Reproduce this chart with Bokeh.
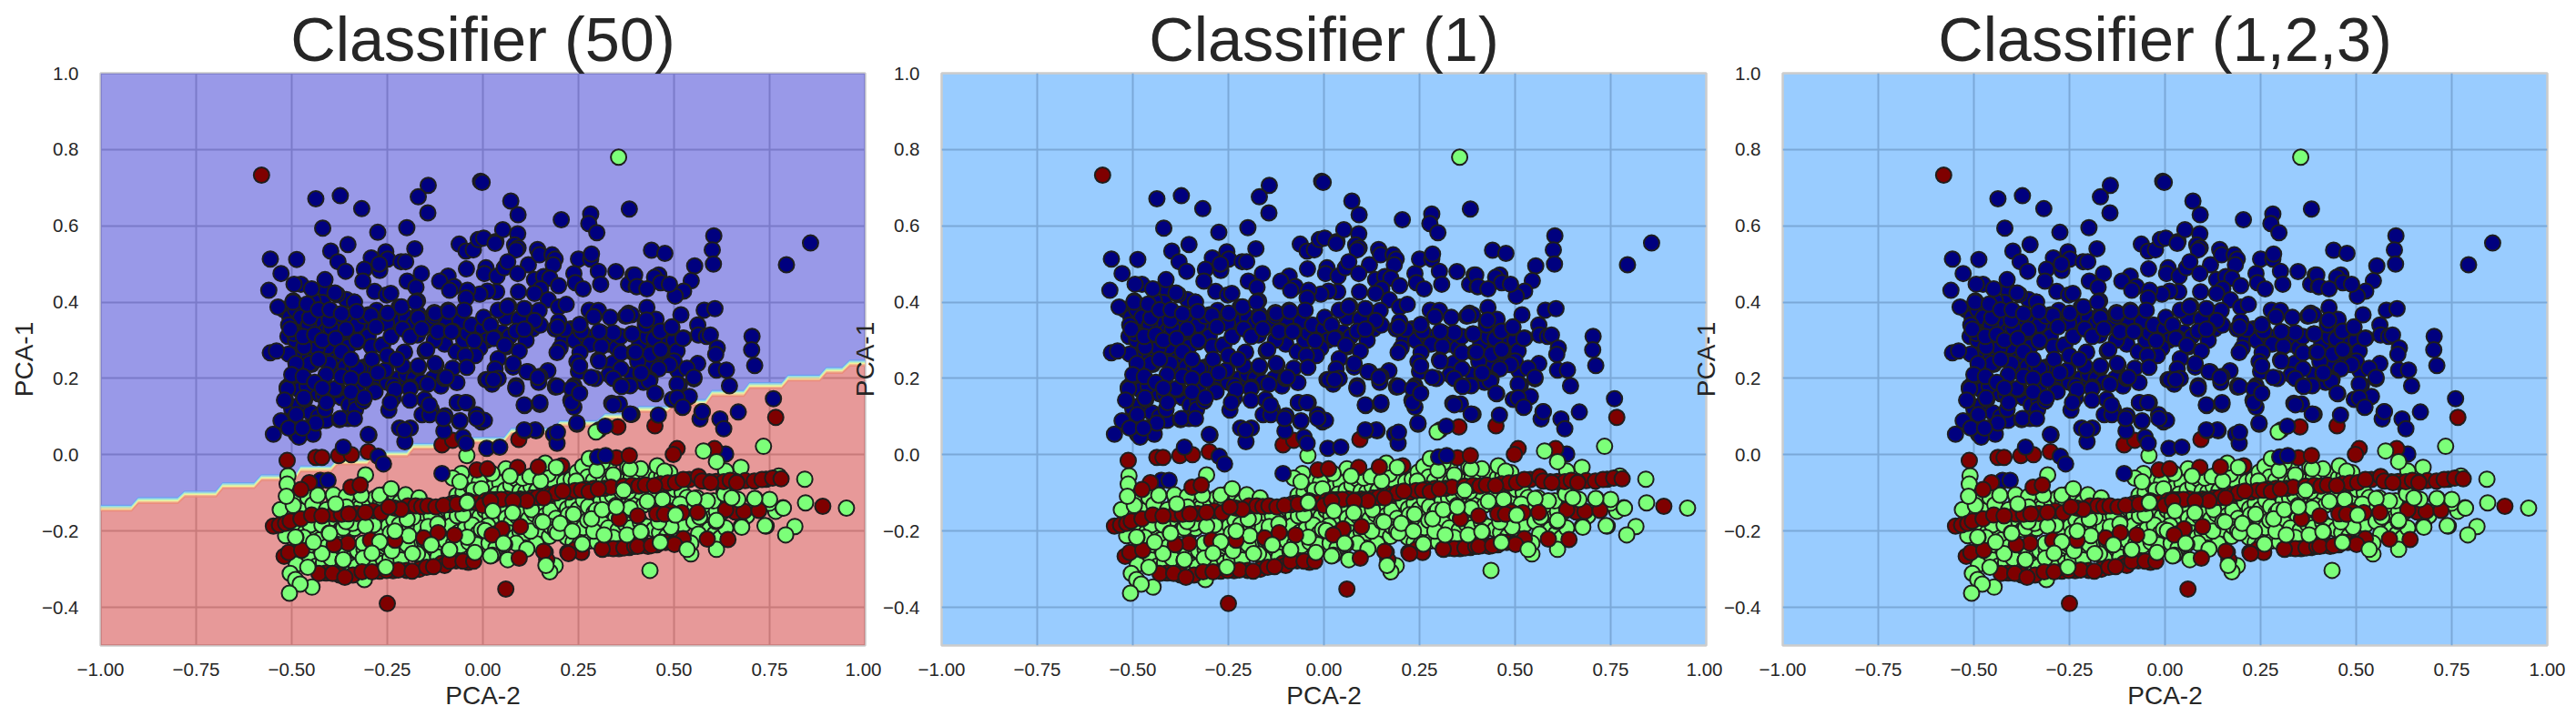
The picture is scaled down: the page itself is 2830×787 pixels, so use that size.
from bokeh.embed import file_html
from bokeh.layouts import row
from bokeh.models import ColumnDataSource, FixedTicker
from bokeh.plotting import figure
from bokeh.resources import INLINE

titles = ["Classifier (50)", "Classifier (1)", "Classifier (1,2,3)"]
x_ticks = [-1.0, -0.75, -0.5, -0.25, 0.0, 0.25, 0.5, 0.75, 1.0]
x_tick_labels = ["\u22121.00", "\u22120.75", "\u22120.50", "\u22120.25", "0.00", "0.25", "0.50", "0.75", "1.00"]
y_ticks = [-0.4, -0.2, 0.0, 0.2, 0.4, 0.6, 0.8, 1.0]
y_tick_labels = ["\u22120.4", "\u22120.2", "0.0", "0.2", "0.4", "0.6", "0.8", "1.0"]

boundary_x = [-1.0, -0.919, -0.901, -0.798, -0.78, -0.698, -0.68, -0.598, -0.579, -0.49, -0.476, -0.397, -0.381,
              -0.302, -0.286, -0.198, -0.181, -0.09, -0.07, 0.056, 0.075, 0.187, 0.202, 0.3, 0.32, 0.39, 0.409,
              0.484, 0.5, 0.583, 0.6, 0.683, 0.698, 0.782, 0.799, 0.881, 0.899, 0.94, 0.96, 1.0]
boundary_y = [-0.14, -0.14, -0.12, -0.12, -0.103, -0.103, -0.081, -0.081, -0.06, -0.06, -0.037, -0.037, -0.019,
              -0.019, 0.002, 0.002, 0.022, 0.022, 0.038, 0.038, 0.062, 0.062, 0.082, 0.082, 0.1, 0.1, 0.119,
              0.119, 0.137, 0.137, 0.161, 0.161, 0.181, 0.181, 0.201, 0.201, 0.221, 0.221, 0.24, 0.24]

blue_low = [(0.242, -0.065), (-0.425, -0.067), (-0.405, -0.067), (0.635, 0.002)]

blue_points = [
    (-0.52, 0.38), (-0.505, 0.36), (-0.51, 0.31), (-0.49, 0.38), (-0.475, 0.33), (-0.46, 0.335), (-0.445, 0.325),
    (-0.43, 0.34), (-0.41, 0.36), (-0.395, 0.37), (-0.375, 0.35), (-0.35, 0.35), (-0.34, 0.31), (-0.325, 0.32),
    (-0.31, 0.33), (-0.3, 0.31), (-0.27, 0.36), (-0.23, 0.35), (-0.2, 0.36), (-0.18, 0.345), (-0.14, 0.34),
    (-0.1, 0.35), (-0.49, 0.3), (-0.48, 0.265), (-0.455, 0.26), (-0.44, 0.27), (-0.42, 0.27), (-0.395, 0.26),
    (-0.38, 0.24), (-0.36, 0.23), (-0.34, 0.225), (-0.31, 0.23), (-0.29, 0.215), (-0.27, 0.195), (-0.25, 0.19),
    (-0.22, 0.2), (-0.2, 0.21), (-0.18, 0.2), (-0.16, 0.19), (-0.13, 0.2), (-0.11, 0.18), (-0.5, 0.19),
    (-0.48, 0.17), (-0.45, 0.165), (-0.43, 0.16), (-0.4, 0.15), (-0.37, 0.15), (-0.35, 0.13), (-0.33, 0.14),
    (-0.5, 0.12), (-0.48, 0.13), (-0.45, 0.11), (-0.43, 0.1), (-0.41, 0.09), (-0.5, 0.09), (-0.46, 0.07),
    (-0.1, 0.29), (-0.07, 0.27), (-0.05, 0.3), (-0.04, 0.32), (-0.06, 0.35), (-0.03, 0.34), (0.0, 0.33),
    (0.01, 0.3), (0.05, 0.32), (0.07, 0.31), (0.06, 0.36), (0.13, 0.33), (0.15, 0.34),
    (0.21, 0.3), (0.23, 0.33), (0.24, 0.3), (0.27, 0.31), (0.28, 0.29), (0.33, 0.29), (0.35, 0.28),
    (0.36, 0.31), (0.41, 0.29), (0.43, 0.31), (0.45, 0.29), (0.48, 0.3), (0.5, 0.3), (0.51, 0.22), (0.47, 0.24),
    (0.44, 0.24), (0.42, 0.19), (0.39, 0.21), (0.34, 0.24), (0.33, 0.21), (0.17, 0.22),
    (-0.437, 0.671), (-0.373, 0.679), (-0.317, 0.645), (-0.143, 0.706), (-0.169, 0.676), (-0.144, 0.634),
    (-0.006, 0.717), (-0.002, 0.714), (0.073, 0.665), (0.092, 0.629), (0.205, 0.616), (0.282, 0.631),
    (0.277, 0.606), (0.298, 0.582), (0.383, 0.644), (-0.419, 0.594), (-0.275, 0.583), (-0.199, 0.595),
    (-0.353, 0.551), (-0.398, 0.534), (-0.379, 0.506), (-0.359, 0.481), (-0.556, 0.513), (-0.487, 0.512),
    (-0.528, 0.475), (-0.56, 0.431), (-0.536, 0.387), (-0.292, 0.516), (-0.254, 0.532), (-0.249, 0.513),
    (-0.31, 0.486), (-0.27, 0.483), (-0.271, 0.5), (-0.314, 0.455), (-0.214, 0.506), (-0.202, 0.506),
    (-0.178, 0.54), (-0.161, 0.475), (-0.198, 0.455), (-0.175, 0.439), (-0.283, 0.428), (-0.252, 0.419),
    (-0.241, 0.423), (-0.171, 0.403), (-0.062, 0.552), (-0.044, 0.534), (-0.025, 0.537), (-0.012, 0.564),
    (0.002, 0.568), (0.034, 0.559), (0.032, 0.554), (0.052, 0.59), (0.091, 0.579), (0.083, 0.55),
    (0.092, 0.542), (0.087, 0.537), (-0.043, 0.487), (0.008, 0.49), (0.004, 0.475), (0.037, 0.468),
    (0.056, 0.49), (0.065, 0.506), (0.119, 0.498), (0.091, 0.475), (0.143, 0.538), (0.148, 0.524),
    (0.181, 0.524), (0.189, 0.513), (0.184, 0.498), (0.25, 0.513), (0.282, 0.513), (0.284, 0.526),
    (0.238, 0.475), (0.242, 0.451), (0.262, 0.435), (0.302, 0.481), (0.308, 0.447), (0.348, 0.48),
    (0.393, 0.471), (0.381, 0.447), (0.401, 0.441), (-0.091, 0.468), (-0.113, 0.455), (-0.075, 0.441),
    (-0.087, 0.431), (0.135, 0.459), (0.159, 0.467), (0.175, 0.463), (0.198, 0.443), (0.151, 0.435),
    (0.135, 0.423), (0.093, 0.427), (0.036, 0.427), (0.012, 0.429), (-0.008, 0.421), (-0.04, 0.431),
    (-0.044, 0.411), (0.171, 0.406), (0.198, 0.387), (0.218, 0.394), (0.278, 0.379), (0.302, 0.378),
    (0.29, 0.362), (0.333, 0.36), (0.373, 0.363), (0.381, 0.371), (0.389, 0.317), (0.31, 0.32),
    (0.341, 0.32), (0.254, 0.341), (0.258, 0.324), (0.214, 0.329), (0.189, 0.33), (0.198, 0.349),
    (0.067, 0.39), (0.04, 0.379), (0.109, 0.383), (0.147, 0.378), (0.135, 0.352), (0.002, 0.36),
    (0.02, 0.34), (0.095, 0.356), (0.087, 0.324), (0.111, 0.328), (0.113, 0.3), (0.032, 0.306),
    (0.061, 0.283), (0.095, 0.272), (0.04, 0.252), (-0.02, 0.3), (-0.008, 0.28), (-0.02, 0.26),
    (-0.046, 0.26), (-0.091, 0.379), (-0.049, 0.379), (-0.127, 0.373), (-0.127, 0.364), (-0.169, 0.368),
    (-0.219, 0.387), (-0.25, 0.37), (-0.278, 0.378), (-0.3, 0.367), (-0.337, 0.4), (-0.357, 0.407),
    (-0.381, 0.42), (-0.413, 0.435), (-0.419, 0.399), (-0.444, 0.403), (-0.413, 0.459), (-0.476, 0.447),
    (-0.494, 0.447), (-0.448, 0.435), (-0.496, 0.403), (-0.476, 0.36), (-0.439, 0.352), (-0.381, 0.348),
    (-0.329, 0.34), (-0.357, 0.324), (-0.494, 0.318), (-0.508, 0.34), (-0.456, 0.34), (-0.397, 0.332),
    (-0.311, 0.363), (-0.252, 0.344), (-0.171, 0.314), (-0.113, 0.324), (-0.079, 0.324), (-0.127, 0.3),
    (-0.151, 0.272), (-0.206, 0.268), (-0.262, 0.288), (-0.292, 0.284), (-0.329, 0.296), (-0.353, 0.283),
    (-0.464, 0.284), (-0.405, 0.284), (-0.433, 0.28), (-0.508, 0.264), (-0.556, 0.267), (-0.54, 0.272),
    (-0.488, 0.237), (-0.448, 0.237), (-0.399, 0.226), (-0.321, 0.227), (-0.254, 0.221), (-0.21, 0.233),
    (-0.168, 0.229), (-0.123, 0.235), (-0.079, 0.227), (-0.042, 0.229), (0.032, 0.225), (0.079, 0.23),
    (0.119, 0.217), (0.149, 0.205), (0.25, 0.218), (0.294, 0.2), (0.361, 0.225), (0.393, 0.268),
    (0.361, 0.267), (0.31, 0.284), (0.254, 0.268), (0.302, 0.248), (0.246, 0.244), (0.202, 0.28),
    (0.194, 0.268), (-0.512, 0.177), (-0.46, 0.189), (-0.381, 0.173), (-0.31, 0.197), (-0.286, 0.169),
    (-0.234, 0.181), (-0.19, 0.177), (-0.144, 0.185), (-0.1, 0.2), (-0.068, 0.189), (0.008, 0.197),
    (0.04, 0.2), (0.087, 0.181), (0.146, 0.19), (0.19, 0.181), (0.238, 0.181), (0.341, 0.2), (0.361, 0.181),
    (0.604, 0.574), (0.6, 0.537), (0.603, 0.5), (0.857, 0.555), (0.794, 0.498), (0.441, 0.536), (0.476, 0.528),
    (0.554, 0.495), (0.545, 0.456), (0.525, 0.429), (0.503, 0.416), (0.46, 0.471), (0.449, 0.465),
    (0.465, 0.451), (0.488, 0.447), (0.397, 0.471), (0.403, 0.441), (0.429, 0.435), (0.429, 0.386),
    (0.518, 0.367), (0.579, 0.379), (0.607, 0.383), (0.453, 0.355), (0.425, 0.349), (0.425, 0.34),
    (0.389, 0.367), (0.494, 0.333), (0.562, 0.34), (0.564, 0.314), (0.585, 0.31), (0.595, 0.314),
    (0.525, 0.306), (0.448, 0.304), (0.464, 0.324), (0.391, 0.317), (0.613, 0.28), (0.609, 0.263),
    (0.704, 0.31), (0.703, 0.275), (0.711, 0.234), (0.468, 0.271), (0.508, 0.272), (0.397, 0.267),
    (0.438, 0.264), (0.5, 0.246), (0.488, 0.236), (0.46, 0.225), (0.413, 0.213), (0.405, 0.244),
    (0.437, 0.197), (0.562, 0.239), (0.534, 0.227), (0.552, 0.199), (0.514, 0.183), (0.611, 0.222),
    (0.637, 0.222), (0.645, 0.181), (0.385, 0.181), (0.452, 0.16), (0.495, 0.145), (0.54, 0.153),
    (0.522, 0.124), (0.435, 0.193), (0.39, 0.106), (0.459, 0.104), (0.573, 0.113), (0.568, 0.094),
    (0.62, 0.094), (0.63, 0.068), (0.668, 0.112), (0.76, 0.147),
    (-0.512, 0.173), (-0.46, 0.181), (-0.516, 0.143), (-0.466, 0.145), (-0.383, 0.171), (-0.417, 0.157),
    (-0.488, 0.105), (-0.413, 0.119), (-0.444, 0.054), (-0.488, 0.054), (-0.548, 0.054), (-0.528, 0.089),
    (-0.353, 0.095), (-0.375, 0.092), (-0.437, 0.083), (-0.481, 0.046), (-0.508, 0.07), (-0.472, 0.07),
    (-0.333, 0.119), (-0.313, 0.141), (-0.282, 0.165), (-0.329, 0.181), (-0.246, 0.117), (-0.234, 0.149),
    (-0.19, 0.175), (-0.23, 0.171), (-0.218, 0.07), (-0.19, 0.07), (-0.204, 0.034), (-0.298, 0.052),
    (-0.365, 0.02), (-0.274, -0.004), (-0.26, -0.024), (-0.153, 0.145), (-0.135, 0.119), (-0.159, 0.105),
    (-0.139, 0.105), (-0.099, 0.102), (-0.067, 0.136), (-0.041, 0.136), (-0.061, 0.087), (-0.017, 0.105),
    (-0.004, 0.086), (0.004, 0.09), (-0.102, 0.062), (-0.052, 0.046), (-0.044, 0.03), (0.01, 0.017),
    (0.044, 0.02), (-0.107, -0.049), (0.111, 0.063), (0.139, 0.063), (0.185, 0.054), (0.194, 0.03),
    (0.109, 0.129), (0.149, 0.132), (0.238, 0.125), (0.23, 0.143), (0.19, 0.177), (0.238, 0.177),
    (0.337, 0.135), (0.357, 0.133), (0.387, 0.106), (0.246, 0.08), (0.32, 0.075), (0.087, 0.173),
    (0.024, 0.185), (0.3, -0.006), (0.321, -0.002),
    (-0.497, 0.4), (-0.453, 0.359), (-0.504, 0.329), (-0.468, 0.283), (-0.402, 0.353), (-0.387, 0.424),
    (-0.336, 0.4), (-0.293, 0.365), (-0.249, 0.371), (-0.213, 0.388), (-0.176, 0.4), (-0.169, 0.359),
    (-0.125, 0.371), (-0.089, 0.376), (-0.358, 0.329), (-0.329, 0.299), (-0.264, 0.287), (-0.205, 0.269),
    (-0.147, 0.275), (-0.118, 0.323), (-0.082, 0.323), (-0.023, 0.299), (0.028, 0.305), (0.064, 0.388),
    (0.108, 0.383), (0.057, 0.287), (0.108, 0.329), (0.195, 0.335), (0.253, 0.341), (0.304, 0.323),
    (0.377, 0.365), (0.428, 0.353), (0.494, 0.335), (0.523, 0.305), (0.465, 0.275), (0.399, 0.269),
    (0.304, 0.245), (0.253, 0.233), (0.283, 0.203), (0.363, 0.179), (0.414, 0.215), (0.508, 0.185),
    (0.552, 0.203), (-0.453, 0.239), (-0.489, 0.239), (-0.511, 0.173), (-0.519, 0.143), (-0.468, 0.149),
    (-0.402, 0.239), (-0.387, 0.173), (-0.329, 0.227), (-0.307, 0.197), (-0.256, 0.221), (-0.191, 0.173),
    (-0.169, 0.233), (-0.125, 0.239), (-0.096, 0.203), (-0.067, 0.137), (-0.045, 0.137), (0.013, 0.197),
    (0.028, 0.197), (0.079, 0.239), (0.086, 0.175), (0.115, 0.218), (0.144, 0.203), (0.195, 0.179),
    (0.232, 0.173), (0.232, 0.137), (0.253, 0.161), (0.341, 0.131), (0.385, 0.107), (0.45, 0.161),
    (0.508, 0.149), (0.523, 0.125), (0.574, 0.113), (-0.409, 0.137), (-0.373, 0.095), (-0.336, 0.095),
    (-0.242, 0.137), (-0.191, 0.143), (-0.14, 0.131), (-0.3, 0.053), (-0.205, 0.065), (-0.103, 0.095),
    (-0.06, 0.089), (-0.016, 0.095), (0.149, 0.137), (0.108, 0.131), (0.195, 0.059), (0.246, 0.083),
    (0.137, 0.065), (0.108, 0.065),
    (-0.47, 0.31), (-0.44, 0.315), (-0.42, 0.3), (-0.385, 0.305), (-0.37, 0.27), (-0.345, 0.25),
    (-0.43, 0.25), (-0.41, 0.21), (-0.37, 0.205), (-0.345, 0.2), (-0.29, 0.25), (-0.275, 0.215),
    (-0.5, 0.21), (-0.47, 0.205), (-0.44, 0.19), (-0.42, 0.175), (-0.345, 0.165), (-0.31, 0.15),
    (-0.46, 0.395), (-0.43, 0.38), (-0.4, 0.38), (-0.37, 0.37), (-0.33, 0.375), (-0.28, 0.335),
    (-0.24, 0.31), (-0.21, 0.33), (-0.19, 0.31), (-0.16, 0.33), (-0.25, 0.26), (-0.225, 0.25),
]

red_points = [
    (-0.39, -0.156), (-0.37, -0.156), (-0.33, -0.154), (-0.287, -0.147), (-0.23, -0.14), (-0.196, -0.134),
    (-0.176, -0.134), (-0.16, -0.136), (-0.087, -0.131), (-0.05, -0.128), (-0.03, -0.125), (-0.015, -0.126),
    (0.008, -0.12), (0.034, -0.118), (0.064, -0.116), (0.098, -0.116), (0.128, -0.113), (0.143, -0.112),
    (0.176, -0.105), (0.192, -0.1), (0.225, -0.098), (0.241, -0.094), (0.27, -0.09), (0.29, -0.088),
    (0.318, -0.088), (0.335, -0.085), (0.368, -0.082), (0.39, -0.08), (0.408, -0.082), (0.465, -0.076),
    (0.484, -0.074), (0.54, -0.065), (0.61, -0.07), (0.63, -0.071), (0.686, -0.068), (0.741, -0.064),
    (-0.41, -0.31), (-0.375, -0.315), (-0.34, -0.315), (-0.27, -0.305), (-0.235, -0.304), (-0.2, -0.303),
    (-0.166, -0.3), (-0.108, -0.285), (-0.07, -0.278), (-0.038, -0.282), (-0.1, -0.29), (0.328, -0.245),
    (0.356, -0.246), (0.383, -0.243), (0.415, -0.238), (0.432, -0.24), (0.455, -0.236), (0.478, -0.23),
    (0.455, -0.155), (0.49, -0.15), (0.52, -0.152), (0.66, -0.15),
    (-0.579, 0.733), (-0.512, -0.015), (-0.437, -0.007), (-0.421, -0.007), (-0.377, -0.002), (-0.344, 0.0),
    (-0.3, 0.008), (-0.107, 0.026), (-0.079, 0.038), (0.094, 0.04), (-0.454, -0.073), (-0.476, -0.091),
    (-0.345, -0.085), (-0.321, -0.079), (-0.548, -0.187), (-0.532, -0.184), (-0.516, -0.18), (-0.504, -0.174),
    (-0.476, -0.168), (-0.448, -0.158), (-0.421, -0.16), (-0.52, -0.266), (-0.508, -0.256), (-0.474, -0.25),
    (-0.351, -0.155), (-0.307, -0.151), (-0.266, -0.152), (-0.214, -0.143), (-0.246, -0.137), (-0.144, -0.134),
    (-0.123, -0.137), (-0.103, -0.133), (-0.067, -0.129), (-0.353, -0.232), (-0.389, -0.236), (-0.294, -0.224),
    (-0.23, -0.224), (-0.155, -0.218), (-0.117, -0.204), (-0.074, -0.21), (-0.429, -0.311), (-0.393, -0.311),
    (-0.361, -0.321), (-0.316, -0.307), (-0.29, -0.307), (-0.252, -0.303), (-0.221, -0.302), (-0.185, -0.305),
    (-0.147, -0.295), (-0.129, -0.293), (-0.087, -0.279), (-0.052, -0.279), (-0.024, -0.279), (-0.25, -0.39),
    (0.06, -0.352), (-0.016, -0.04), (0.012, -0.037), (0.091, -0.033), (0.145, -0.032), (0.206, -0.029),
    (0.0, -0.133), (0.02, -0.117), (0.048, -0.117), (0.083, -0.119), (0.111, -0.117), (0.159, -0.113),
    (0.209, -0.095), (0.258, -0.093), (0.278, -0.097), (0.302, -0.09), (0.349, -0.008), (0.383, -0.002),
    (0.05, -0.194), (0.098, -0.188), (0.024, -0.21), (0.095, -0.271), (0.163, -0.256), (0.167, -0.275),
    (0.222, -0.256), (0.242, -0.248), (0.258, -0.256), (0.313, -0.248), (0.341, -0.246), (0.369, -0.244),
    (0.397, -0.24), (0.357, -0.168), (0.45, 0.076), (0.766, 0.098), (0.508, 0.016), (0.498, 0.001),
    (0.606, 0.016), (0.425, -0.079), (0.449, -0.081), (0.504, -0.073), (0.524, -0.065), (0.564, -0.057),
    (0.592, -0.071), (0.573, -0.069), (0.663, -0.071), (0.647, -0.067), (0.71, -0.069), (0.73, -0.065),
    (0.758, -0.061), (0.78, -0.063), (0.889, -0.135), (0.562, -0.151), (0.683, -0.148), (0.722, -0.146),
    (0.475, -0.156), (0.405, -0.16), (0.587, -0.221), (0.641, -0.222), (0.5, -0.233), (0.405, -0.24),
    (0.441, -0.238), (0.524, -0.22), (0.635, -0.144), (0.115, -0.121), (0.079, -0.121), (0.02, -0.121),
    (0.596, -0.073), (0.664, -0.073), (0.501, -0.235), (0.312, -0.247), (0.224, -0.259), (0.159, -0.253),
    (0.304, 0.065), (0.353, 0.073),
]

green_back = [
    (-0.503, -0.138), (-0.487, -0.121), (-0.472, -0.147), (-0.458, -0.112), (-0.445, -0.131), (-0.432, -0.106),
    (-0.497, -0.196), (-0.478, -0.188), (-0.463, -0.201), (-0.441, -0.207), (-0.425, -0.222), (-0.482, -0.238),
    (-0.461, -0.254), (-0.447, -0.243), (-0.429, -0.268), (-0.491, -0.263), (-0.473, -0.279), (-0.452, -0.276),
    (-0.436, -0.292), (-0.417, -0.283), (-0.408, -0.241), (-0.413, -0.176), (-0.396, -0.158),
    (-0.388, -0.122), (-0.371, -0.118), (-0.362, -0.146), (-0.346, -0.127), (-0.331, -0.121), (-0.322, -0.139),
    (-0.384, -0.178), (-0.372, -0.196), (-0.351, -0.204), (-0.336, -0.193), (-0.319, -0.177), (-0.303, -0.168),
    (-0.387, -0.258), (-0.373, -0.249), (-0.359, -0.262), (-0.342, -0.271), (-0.328, -0.252), (-0.311, -0.248),
    (-0.348, -0.289), (-0.331, -0.293), (-0.379, -0.287), (-0.397, -0.272),
    (-0.297, -0.122), (-0.281, -0.113), (-0.268, -0.128), (-0.256, -0.104), (-0.243, -0.118), (-0.229, -0.109),
    (-0.288, -0.176), (-0.274, -0.191), (-0.259, -0.173), (-0.247, -0.186), (-0.233, -0.171), (-0.218, -0.183),
    (-0.284, -0.239), (-0.268, -0.247), (-0.251, -0.236), (-0.236, -0.224), (-0.221, -0.243), (-0.206, -0.229),
    (-0.275, -0.276), (-0.261, -0.284), (-0.243, -0.271), (-0.297, -0.291), (-0.214, -0.276),
    (-0.193, -0.127), (-0.178, -0.149), (-0.164, -0.142), (-0.151, -0.159), (-0.137, -0.148), (-0.121, -0.151),
    (-0.108, -0.163), (-0.191, -0.186), (-0.176, -0.204), (-0.161, -0.192), (-0.147, -0.207), (-0.129, -0.189),
    (-0.112, -0.181), (-0.186, -0.239), (-0.168, -0.241), (-0.153, -0.227), (-0.138, -0.256), (-0.122, -0.222),
    (-0.108, -0.241), (-0.158, -0.272), (-0.118, -0.268),
    (-0.094, -0.142), (-0.081, -0.158), (-0.066, -0.146), (-0.052, -0.172), (-0.036, -0.153), (-0.021, -0.141),
    (-0.008, -0.162), (-0.098, -0.196), (-0.083, -0.186), (-0.063, -0.203), (-0.046, -0.193), (-0.028, -0.184),
    (-0.013, -0.206), (-0.097, -0.226), (-0.076, -0.232), (-0.058, -0.238), (-0.037, -0.229), (-0.016, -0.236),
    (-0.068, -0.106), (-0.052, -0.098), (-0.031, -0.084), (-0.046, -0.066), (-0.026, -0.058), (-0.009, -0.071),
    (0.006, -0.146), (0.018, -0.159), (0.033, -0.172), (0.047, -0.148), (0.061, -0.166), (0.074, -0.177),
    (0.089, -0.161), (0.013, -0.186), (0.029, -0.208), (0.042, -0.219), (0.068, -0.204), (0.084, -0.216),
    (0.097, -0.201), (0.009, -0.098), (0.026, -0.086), (0.044, -0.074), (0.037, -0.103), (0.058, -0.093),
    (0.073, -0.079), (0.088, -0.064), (0.097, -0.096), (0.016, -0.232), (0.034, -0.245),
    (0.108, -0.147), (0.119, -0.169), (0.134, -0.155), (0.146, -0.142), (0.163, -0.159), (0.177, -0.146),
    (0.191, -0.167), (0.112, -0.098), (0.126, -0.083), (0.141, -0.094), (0.158, -0.078), (0.173, -0.089),
    (0.186, -0.071), (0.197, -0.099), (0.131, -0.212), (0.146, -0.196), (0.174, -0.214), (0.178, -0.188),
    (0.111, -0.222), (0.139, -0.233), (0.104, -0.061), (0.135, -0.052), (0.171, -0.051),
    (0.208, -0.124), (0.221, -0.141), (0.236, -0.128), (0.249, -0.143), (0.263, -0.119), (0.276, -0.136),
    (0.291, -0.152), (0.213, -0.174), (0.228, -0.186), (0.247, -0.176), (0.263, -0.191), (0.274, -0.172),
    (0.298, -0.184), (0.214, -0.071), (0.231, -0.064), (0.246, -0.046), (0.261, -0.031), (0.274, -0.058),
    (0.289, -0.068), (0.219, -0.216), (0.236, -0.229), (0.281, -0.226), (0.299, -0.229),
    (0.309, -0.121), (0.326, -0.114), (0.339, -0.107), (0.331, -0.153), (0.346, -0.168), (0.361, -0.152),
    (0.376, -0.119), (0.391, -0.126), (0.313, -0.181), (0.328, -0.192), (0.354, -0.197), (0.372, -0.181),
    (0.388, -0.191), (0.316, -0.063), (0.331, -0.071), (0.352, -0.062), (0.366, -0.071), (0.388, -0.058),
    (0.329, -0.031), (0.312, -0.021),
    (0.406, -0.118), (0.421, -0.131), (0.436, -0.109), (0.451, -0.138), (0.466, -0.147), (0.482, -0.121),
    (0.497, -0.108), (0.412, -0.177), (0.428, -0.188), (0.447, -0.196), (0.462, -0.204), (0.481, -0.213),
    (0.508, -0.196), (0.524, -0.184), (0.436, -0.053), (0.453, -0.061), (0.468, -0.056), (0.489, -0.047),
    (0.503, -0.091), (0.521, -0.099), (0.534, -0.112), (0.547, -0.138), (0.571, -0.138), (0.586, -0.152),
    (0.598, -0.166), (0.578, -0.187), (0.592, -0.196), (0.606, -0.208), (0.617, -0.128), (0.628, -0.149),
    (0.643, -0.127), (0.621, -0.218),
    (-0.51, -0.055), (-0.512, -0.077), (-0.53, -0.144), (-0.496, -0.133), (-0.307, -0.053), (-0.27, -0.106),
    (-0.217, -0.125), (-0.202, -0.105), (-0.167, -0.113), (-0.391, -0.105), (-0.357, -0.109), (-0.318, -0.106),
    (-0.409, -0.144), (-0.357, -0.137), (-0.516, -0.212), (-0.452, -0.184), (-0.421, -0.184), (-0.365, -0.192),
    (-0.341, -0.18), (-0.286, -0.184), (-0.313, -0.232), (-0.198, -0.236), (-0.238, -0.252), (-0.421, -0.259),
    (-0.313, -0.271), (-0.488, -0.287), (-0.504, -0.311), (-0.49, -0.327), (-0.447, -0.347), (-0.313, -0.311),
    (-0.31, -0.327), (-0.183, -0.164), (-0.135, -0.16), (-0.143, -0.188), (-0.194, -0.212), (-0.171, -0.26),
    (-0.041, -0.216), (-0.067, -0.16), (-0.083, -0.129), (-0.056, -0.049), (-0.079, -0.061), (-0.024, -0.093),
    (-0.004, -0.089), (0.06, -0.037), (0.024, -0.049), (0.123, -0.057), (0.163, -0.022), (0.151, -0.069),
    (0.278, -0.01), (0.298, -0.041), (0.341, -0.053), (0.379, -0.033), (0.244, -0.069), (0.127, -0.144),
    (0.19, -0.2), (0.373, -0.144), (0.29, -0.2), (-0.004, -0.196), (0.025, -0.263), (0.065, -0.275),
    (0.111, -0.244), (0.087, -0.232), (0.189, -0.291), (0.175, -0.307), (0.125, -0.2),
    (0.675, -0.033), (0.635, -0.043), (0.456, -0.029), (0.475, -0.043), (0.413, -0.037), (0.385, -0.037),
    (0.774, -0.056), (0.766, -0.148), (0.657, -0.148), (0.69, -0.16), (0.611, -0.148), (0.603, -0.121),
    (0.635, -0.192), (0.611, -0.248), (0.544, -0.26), (0.413, -0.202), (0.437, -0.303), (0.536, -0.134),
    (0.552, -0.175), (0.56, -0.113), (0.587, -0.121), (0.631, -0.097), (0.47, -0.117), (0.492, -0.19),
    (0.564, -0.208), (0.385, -0.14), (0.46, -0.176), (0.516, -0.129), (0.41, -0.097), (0.381, -0.097),
    (0.544, -0.232), (0.253, -0.235), (0.348, -0.133), (0.363, -0.097), (0.297, -0.145), (0.224, -0.157),
    (0.151, -0.175), (0.195, -0.205), (0.115, -0.247), (0.02, -0.265), (0.057, -0.235), (-0.023, -0.259),
    (-0.089, -0.253), (-0.14, -0.235), (-0.184, -0.259), (-0.242, -0.205), (-0.271, -0.229), (-0.402, -0.205),
    (-0.366, -0.277), (-0.468, -0.217), (-0.489, -0.217), (0.006, -0.199), (-0.052, -0.157), (-0.038, -0.121),
    (-0.074, -0.127), (-0.118, -0.181), (-0.198, -0.169), (-0.307, -0.187), (-0.358, -0.175), (0.341, -0.217),
    (0.414, -0.205), (0.465, -0.229), (0.501, -0.157), (0.567, -0.163), (0.61, -0.175), (0.552, -0.115),
    (0.632, -0.103), (0.676, -0.187), (0.741, -0.187), (0.712, -0.115), (0.785, -0.139), (0.749, -0.127),
]

green_front = [
    (0.355, 0.78), (-0.042, -0.002), (-0.514, -0.109), (-0.24, -0.089), (-0.385, -0.129), (-0.401, -0.206),
    (-0.49, -0.216), (-0.443, -0.229), (-0.23, -0.2), (-0.27, -0.228), (-0.29, -0.258), (-0.365, -0.275),
    (-0.254, -0.295), (-0.458, -0.295), (-0.478, -0.339), (-0.506, -0.363), (-0.135, -0.236), (-0.087, -0.249),
    (-0.021, -0.256), (-0.041, -0.125), (-0.06, -0.071), (0.071, -0.056), (0.192, -0.033), (0.026, -0.147),
    (0.078, -0.152), (0.157, -0.176), (0.202, -0.18), (0.234, -0.2), (0.237, -0.156), (0.284, -0.168),
    (0.312, -0.144), (0.349, -0.137), (0.368, -0.093), (0.377, -0.21), (0.317, -0.21), (0.26, -0.234),
    (0.054, -0.232), (0.165, -0.29), (0.734, 0.022), (0.577, 0.01), (0.611, -0.018), (0.842, -0.064),
    (0.844, -0.126), (0.951, -0.14), (0.786, -0.14), (0.75, -0.117), (0.711, -0.115), (0.667, -0.117),
    (0.651, -0.113), (0.738, -0.186), (0.677, -0.19), (0.816, -0.188), (0.792, -0.21), (0.611, -0.172),
    (0.534, -0.248), (0.464, -0.23), (0.413, -0.202), (0.504, -0.158), (0.43, -0.122), (0.296, 0.06),
]

blue_low_x, blue_low_y = zip(*blue_low)
blue_x, blue_y = zip(*blue_points)
red_x, red_y = zip(*red_points)
green_back_x, green_back_y = zip(*green_back)
green_front_x, green_front_y = zip(*green_front)

layers = [
    (blue_low_x, blue_low_y, "#00007f"),
    (green_back_x, green_back_y, "#7cff79"),
    (red_x, red_y, "#7f0000"),
    (green_front_x, green_front_y, "#7cff79"),
    (blue_x, blue_y, "#00007f"),
]

INK = "#262626"
FONT = "Liberation Sans"
FRAME_W = 840
FRAME_H = 629
UNIT_Y = 1 / 420
LEFT = 110


def make_panel(title, right, overlap):
    p = figure(
        width=LEFT + FRAME_W + right, height=80 + FRAME_H + 74,
        x_range=(-1, 1), y_range=(-0.5, 1.0),
        toolbar_location=None, output_backend="svg",
        min_border_left=LEFT, min_border_right=right, min_border_top=80, min_border_bottom=74,
        background_fill_color="white", border_fill_color=None,
        margin=(0, 0, 0, -overlap),
    )
    p.title.text = title
    p.title.align = "center"
    p.title.text_font = FONT
    p.title.text_font_size = "68.5px"
    p.title.text_font_style = "normal"
    p.title.text_color = INK
    p.title.standoff = -2
    p.title.text_line_height = 1.0

    for ax in (p.xaxis[0], p.yaxis[0]):
        ax.axis_line_color = None
        ax.major_tick_line_color = None
        ax.minor_tick_line_color = None
        ax.major_label_text_font = FONT
        ax.major_label_text_font_size = "20.5px"
        ax.major_label_text_color = INK
        ax.axis_label_text_font = FONT
        ax.axis_label_text_font_size = "28px"
        ax.axis_label_text_font_style = "normal"
        ax.axis_label_text_color = INK
    p.xaxis[0].ticker = FixedTicker(ticks=x_ticks)
    p.yaxis[0].ticker = FixedTicker(ticks=y_ticks)
    p.xaxis[0].major_label_overrides = dict(zip(x_ticks, x_tick_labels))
    p.yaxis[0].major_label_overrides = dict(zip(y_ticks, y_tick_labels))
    p.xaxis[0].major_label_standoff = 13
    p.yaxis[0].major_label_standoff = 18
    p.xaxis[0].axis_label = "PCA-2"
    p.xaxis[0].axis_label_standoff = 3
    p.yaxis[0].axis_label = "PCA-1"
    p.yaxis[0].axis_label_standoff = 1

    p.grid.grid_line_color = "#cccccc"
    p.grid.grid_line_width = 2
    p.outline_line_color = "#cccccc"
    p.outline_line_width = 2.5
    return p


def add_points(p):
    for xs, ys, colour in layers:
        src = ColumnDataSource(dict(x=list(xs), y=list(ys)))
        p.scatter("x", "y", source=src, size=17, fill_color=colour, line_color="#1e1e1e", line_width=2)


p1 = make_panel(titles[0], 18, 0)
top = [1.0] * len(boundary_x)
bottom = [-0.5] * len(boundary_x)
p1.varea(x=boundary_x, y1=boundary_y, y2=top, fill_color="#0000c5", fill_alpha=0.4)
p1.varea(x=boundary_x, y1=bottom, y2=boundary_y, fill_color="#c30000", fill_alpha=0.4)
band_colours = ["#6f9ff0", "#8fdcec", "#c4f2b4", "#f2f0a0", "#f4bd8c", "#ea8c7c"]
for i, colour in enumerate(band_colours):
    p1.line(boundary_x, [v + (2.5 - i) * 1.25 * UNIT_Y for v in boundary_y],
            line_color=colour, line_width=1.4, line_join="miter")
add_points(p1)

p2 = make_panel(titles[1], 18, 44)
p2.background_fill_color = "#99ccff"
p2.grid.grid_line_color = "#7aa8d8"
add_points(p2)

p3 = make_panel(titles[2], 20, 44)
p3.background_fill_color = "#99ccff"
p3.grid.grid_line_color = "#7aa8d8"
add_points(p3)

layout = row(p1, p2, p3, spacing=0)
open("out.html", "w").write(file_html(layout, INLINE))
